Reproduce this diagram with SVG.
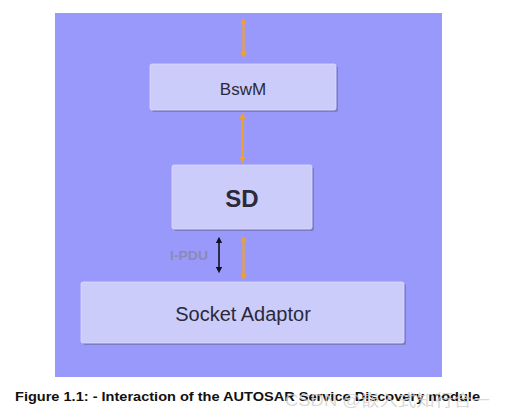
<svg xmlns="http://www.w3.org/2000/svg" width="507" height="419" viewBox="0 0 507 419">
<style>
.box{fill:#ccccfb;stroke:#dcdcff;stroke-width:0.8}
.shadow{fill:#7373b8;opacity:0.8}
.lbl{font-family:"Liberation Sans",Arial,sans-serif;fill:#2a2a3a;text-anchor:middle}
.orange{stroke:#f0a030;stroke-width:2.2;fill:none}
.black{stroke:#111122;stroke-width:1.6;fill:none}
</style>
<defs>
<marker id="oa" viewBox="0 0 6 6" refX="3" refY="3" markerWidth="3" markerHeight="3" orient="auto-start-reverse"><path d="M0,0 L6,3 L0,6 Z" fill="#f0a030"/></marker>
<marker id="ba" viewBox="0 0 6 6" refX="3" refY="3" markerWidth="4" markerHeight="4" orient="auto-start-reverse"><path d="M0,0 L6,3 L0,6 Z" fill="#111122"/></marker>
</defs>
<rect width="507" height="419" fill="#ffffff"/>
<rect x="55" y="13" width="387" height="364" fill="#9999fc"/>
<g id="connectors">
<line class="orange" x1="243.5" y1="21" x2="243.5" y2="55" marker-start="url(#oa)" marker-end="url(#oa)"/>
<line class="orange" x1="242.5" y1="116" x2="242.5" y2="160" marker-start="url(#oa)" marker-end="url(#oa)"/>
<line class="orange" x1="243.5" y1="239" x2="243.5" y2="277" marker-start="url(#oa)" marker-end="url(#oa)"/>
<line class="black" x1="219" y1="240" x2="219" y2="270" marker-start="url(#ba)" marker-end="url(#ba)"/>
<text x="189" y="260" font-family="Liberation Sans,Arial,sans-serif" font-size="12" font-weight="bold" fill="#8a8ab4" text-anchor="middle" textLength="38" lengthAdjust="spacingAndGlyphs">I-PDU</text>
</g>
<g id="bswm">
<rect class="shadow" x="152" y="66" width="186" height="46" rx="2"/>
<rect class="box" x="150" y="64" width="186" height="46" rx="2"/>
<text class="lbl" x="243" y="95" font-size="17">BswM</text>
</g>
<g id="sd">
<rect class="shadow" x="174" y="167" width="140" height="64" rx="2"/>
<rect class="box" x="172" y="165" width="140" height="64" rx="2"/>
<text class="lbl" x="242" y="207" font-size="24" font-weight="bold" fill="#111122">SD</text>
</g>
<g id="socket">
<rect class="shadow" x="83" y="284" width="323" height="61" rx="2"/>
<rect class="box" x="81" y="282" width="323" height="61" rx="2"/>
<text class="lbl" x="243" y="321" font-size="20">Socket Adaptor</text>
</g>
<text x="15" y="401" font-family="Liberation Sans,Arial,sans-serif" font-size="13.5" font-weight="bold" fill="#111111" textLength="465" lengthAdjust="spacingAndGlyphs">Figure 1.1: - Interaction of the AUTOSAR Service Discovery module</text>
<text x="285" y="406" font-family="Liberation Sans,'Noto Sans CJK SC',sans-serif" font-size="16" fill="#cfcfcf" fill-opacity="0.8" textLength="205" lengthAdjust="spacingAndGlyphs">CSDN @嵌入式知行合一</text>
</svg>
